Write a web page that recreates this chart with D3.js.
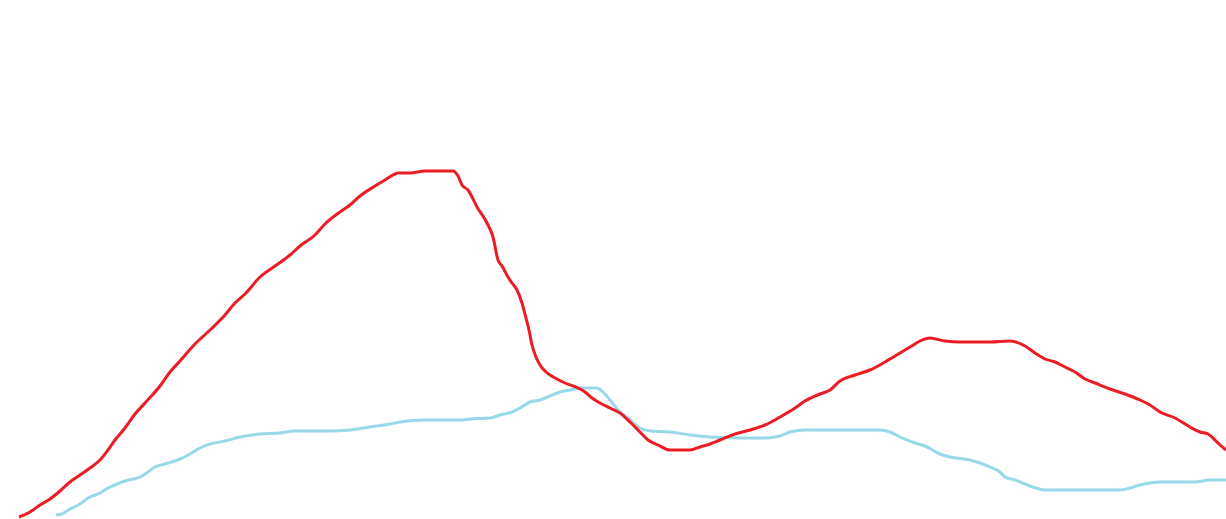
<!DOCTYPE html>
<html>
<head>
    <script src="https://d3js.org/d3.v7.min.js"></script>
    <style>
        html, body { margin: 0; padding: 0; background: #fff; overflow: hidden; }
    </style>
</head>
<body>
    <script>

// Red series: x position and level
var redX = [19, 30, 40, 50, 60, 70, 80, 90, 100, 108, 115, 125, 135, 145, 160, 170, 180, 195, 210, 225, 235, 245, 260, 275, 290, 300, 315, 325, 340, 350, 360, 375, 385, 395, 398, 410, 425, 440, 453, 458, 462, 468, 477, 487, 493, 498, 502, 508, 512, 517, 522, 526, 529, 532, 536, 540, 546, 555, 565, 578, 585, 592, 600, 610, 620, 630, 640, 648, 658, 670, 690, 700, 710, 720, 735, 750, 765, 780, 795, 805, 820, 830, 840, 855, 870, 885, 900, 910, 920, 930, 945, 960, 990, 1010, 1025, 1035, 1045, 1055, 1065, 1075, 1085, 1095, 1110, 1125, 1140, 1150, 1160, 1175, 1190, 1200, 1208, 1215, 1220, 1226];
var redY = [2, 7, 14, 20, 28, 37, 44, 51, 59, 69, 79, 91, 105, 116, 133, 147, 158, 175, 189, 204, 216, 225, 242, 253, 264, 273, 284, 295, 307, 314, 323, 333, 339, 345, 346, 346, 348, 348, 348, 343, 334, 329, 312, 296, 282, 259, 253, 242, 236, 229, 216, 201, 189, 174, 162, 154, 147, 141, 136, 131, 127, 121, 116, 111, 106, 97, 87, 79, 74, 69, 69, 72, 75, 79, 85, 89, 94, 102, 111, 118, 125, 129, 138, 144, 149, 157, 166, 172, 178, 181, 178, 177, 177, 178, 173, 166, 160, 157, 152, 147, 140, 136, 130, 125, 119, 114, 107, 101, 92, 87, 85, 79, 74, 69];

// Light blue series
var blueX = [56, 62, 70, 80, 88, 100, 108, 115, 125, 140, 148, 155, 165, 180, 190, 200, 210, 225, 240, 260, 280, 295, 330, 350, 370, 390, 400, 425, 460, 470, 490, 500, 512, 520, 530, 540, 550, 560, 570, 580, 597, 603, 610, 618, 628, 640, 650, 670, 690, 710, 740, 765, 780, 790, 805, 880, 890, 900, 915, 925, 940, 950, 970, 990, 1000, 1005, 1015, 1030, 1045, 1070, 1120, 1130, 1140, 1160, 1195, 1210, 1226];
var blueY = [4, 5, 10, 15, 21, 26, 31, 34, 38, 42, 47, 52, 55, 60, 65, 71, 75, 78, 82, 85, 86, 88, 88, 89, 92, 95, 97, 99, 99, 100, 101, 104, 107, 111, 117, 119, 123, 127, 129, 131, 131, 127, 119, 109, 101, 91, 88, 87, 84, 82, 81, 81, 83, 87, 89, 89, 87, 82, 76, 73, 65, 62, 59, 52, 47, 42, 39, 33, 29, 29, 29, 31, 34, 37, 37, 39, 39];

var width = 1226, height = 519;

var svg = d3.select("body").append("svg")
    .attr("width", width)
    .attr("height", height);

var x = d3.scaleLinear().domain([0, 1226]).range([0, width]);
var y = d3.scaleLinear().domain([0, 519]).range([height, 0]);

var line = d3.line()
    .x(function(d) { return x(d[0]); })
    .y(function(d) { return y(d[1]); })
    .curve(d3.curveMonotoneX);

var blue = d3.zip(blueX, blueY);
var red = d3.zip(redX, redY);

svg.append("path")
    .datum(blue)
    .attr("fill", "none")
    .attr("stroke", "#98d8e9")
    .attr("stroke-width", 3)
    .attr("stroke-linejoin", "round")
    .attr("d", line);

svg.append("path")
    .datum(red)
    .attr("fill", "none")
    .attr("stroke", "#ec1c24")
    .attr("stroke-width", 3)
    .attr("stroke-linejoin", "round")
    .attr("d", line);

    </script>
</body>
</html>
